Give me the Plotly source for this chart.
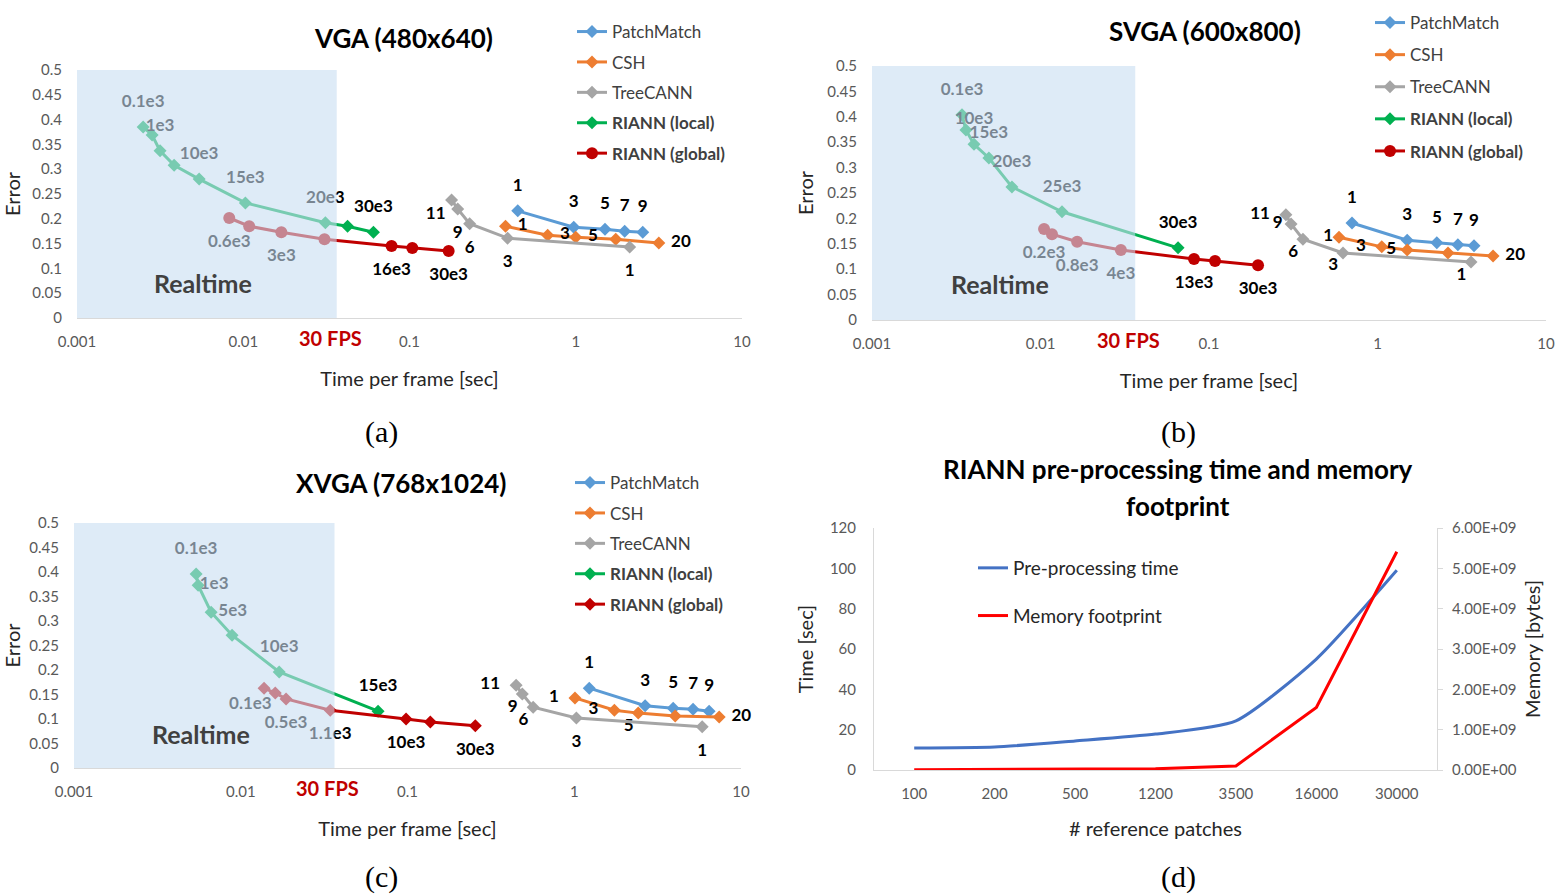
import math
import plotly.graph_objects as go

# ---------------- data ----------------
# (a) VGA (480x640): time per frame [sec] vs error
vga_pm_t = [0.448, 0.973, 1.50, 1.97, 2.53]
vga_pm_err = [0.216, 0.183, 0.179, 0.175, 0.173]
vga_pm_lbl = ["1", "3", "5", "7", "9"]
vga_csh_t = [0.378, 0.678, 1.0, 1.74, 3.16]
vga_csh_err = [0.185, 0.167, 0.163, 0.159, 0.151]
vga_csh_lbl = ["1", "3", "5", "", "20"]
vga_tree_t = [0.179, 0.195, 0.23, 0.389, 2.11]
vga_tree_err = [0.238, 0.220, 0.190, 0.161, 0.143]
vga_tree_lbl = ["11", "9", "6", "3", "1"]
vga_local_t = [0.0025, 0.00283, 0.00316, 0.00384, 0.00543, 0.0103, 0.0312, 0.0424, 0.0607]
vga_local_err = [0.385, 0.369, 0.337, 0.308, 0.280, 0.232, 0.192, 0.185, 0.173]
vga_local_lbl = ["0.1e3", "", "1e3", "", "10e3", "15e3", "20e3", "", "30e3"]
vga_global_t = [0.00824, 0.01086, 0.01695, 0.0308, 0.078, 0.104, 0.172]
vga_global_err = [0.2016, 0.185, 0.173, 0.159, 0.145, 0.141, 0.135]
vga_global_lbl = ["0.6e3", "", "3e3", "", "16e3", "", "30e3"]

# (b) SVGA (600x800)
svga_pm_t = [0.706, 1.50, 2.25, 3.0, 3.74]
svga_pm_err = [0.191, 0.157, 0.152, 0.148, 0.146]
svga_pm_lbl = ["1", "3", "5", "7", "9"]
svga_csh_t = [0.591, 1.06, 1.50, 2.62, 4.85]
svga_csh_err = [0.163, 0.144, 0.138, 0.132, 0.126]
svga_csh_lbl = ["1", "3", "5", "", "20"]
svga_tree_t = [0.286, 0.307, 0.361, 0.624, 3.59]
svga_tree_err = [0.207, 0.189, 0.159, 0.132, 0.114]
svga_tree_lbl = ["11", "9", "6", "3", "1"]
svga_local_t = [0.00342, 0.00361, 0.00403, 0.00494, 0.00677, 0.01342, 0.0655]
svga_local_err = [0.404, 0.374, 0.346, 0.319, 0.262, 0.213, 0.142]
svga_local_lbl = ["0.1e3", "", "10e3", "15e3", "20e3", "25e3", "30e3"]
svga_global_t = [0.0105, 0.0117, 0.0165, 0.0300, 0.0815, 0.1086, 0.1954]
svga_global_err = [0.179, 0.169, 0.154, 0.138, 0.120, 0.116, 0.108]
svga_global_lbl = ["0.2e3", "", "0.8e3", "4e3", "13e3", "", "30e3"]

# (c) XVGA (768x1024)
xvga_pm_t = [1.23, 2.66, 3.92, 5.16, 6.44]
xvga_pm_err = [0.163, 0.127, 0.122, 0.120, 0.116]
xvga_pm_lbl = ["1", "3", "5", "7", "9"]
xvga_csh_t = [1.01, 1.74, 2.42, 4.03, 7.40]
xvga_csh_err = [0.143, 0.118, 0.112, 0.106, 0.104]
xvga_csh_lbl = ["1", "3", "5", "", "20"]
xvga_tree_t = [0.448, 0.488, 0.567, 1.03, 5.85]
xvga_tree_err = [0.169, 0.151, 0.124, 0.102, 0.084]
xvga_tree_lbl = ["11", "9", "6", "3", "1"]
xvga_local_t = [0.0054, 0.00555, 0.00664, 0.00887, 0.0170, 0.0666]
xvga_local_err = [0.396, 0.373, 0.318, 0.271, 0.196, 0.116]
xvga_local_lbl = ["0.1e3", "1e3", "5e3", "", "10e3", "15e3"]
xvga_global_t = [0.0138, 0.0161, 0.0187, 0.0344, 0.098, 0.137, 0.255]
xvga_global_err = [0.163, 0.153, 0.141, 0.118, 0.100, 0.094, 0.086]
xvga_global_lbl = ["", "0.1e3", "0.5e3", "1.1e3", "10e3", "", "30e3"]

# (d) RIANN pre-processing time and memory footprint
ref_patches = ["100", "200", "500", "1200", "3500", "16000", "30000"]
preproc_time = [10.9, 11.4, 14.4, 17.8, 24.4, 55.0, 99.0]
memory_bytes = [0.005e9, 0.008e9, 0.015e9, 0.03e9, 0.1e9, 1.55e9, 5.41e9]

time_ticks = [0.001, 0.01, 0.1, 1, 10]
time_ticktext = ["0.001", "0.01", "0.1", "1", "10"]
err_ticks = [0, 0.05, 0.1, 0.15, 0.2, 0.25, 0.3, 0.35, 0.4, 0.45, 0.5]
err_ticktext = ["0", "0.05", "0.1", "0.15", "0.2", "0.25", "0.3", "0.35", "0.4", "0.45", "0.5"]
mem_ticks = [0, 1e9, 2e9, 3e9, 4e9, 5e9, 6e9]
mem_ticktext = ["0.00E+00", "1.00E+09", "2.00E+09", "3.00E+09", "4.00E+09", "5.00E+09", "6.00E+09"]
fps30 = 1 / 30
realtime_band = [0.001, 0.0365]   # shaded "Realtime" region as drawn

# ---------------- style ----------------
FONT = "Lato"
GREY = "#595959"
AXIS_LINE = "#d9d9d9"
TC, BC, ML, MR, BL = "top center", "bottom center", "middle left", "middle right", "bottom left"

methods = {
    "pm": ("PatchMatch", "#5b9bd5"),
    "csh": ("CSH", "#ed7d31"),
    "tree": ("TreeCANN", "#a5a5a5"),
    "local": ("<b>RIANN (local)</b>", "#00b050"),
    "global": ("<b>RIANN (global)</b>", "#c00000"),
}

fig = go.Figure()


def add_method(key, t, err, labels, pos, xa, ya, legend, symbol="diamond", size=10, gap=24):
    name, color = methods[key]
    fig.add_trace(go.Scatter(
        x=t, y=err, mode="lines+markers", name=name,
        line=dict(color=color, width=3),
        marker=dict(symbol=symbol, size=size, color=color),
        xaxis=xa, yaxis=ya, legend=legend, legendgroup=legend + key,
        hoverinfo="skip"))
    # data labels; the invisible marker only sets how far the label sits from the point
    fig.add_trace(go.Scatter(
        x=t, y=err, mode="markers+text", text=labels, textposition=pos,
        marker=dict(size=gap, color="rgba(0,0,0,0)", opacity=0,
                    line=dict(width=0, color="rgba(0,0,0,0)")),
        cliponaxis=False,
        textfont=dict(family=FONT, size=17, color="black", weight="bold"),
        xaxis=xa, yaxis=ya, showlegend=False, hoverinfo="skip"))


# (a)
add_method("pm", vga_pm_t, vga_pm_err, vga_pm_lbl, TC, "x", "y", "legend")
add_method("csh", vga_csh_t, vga_csh_err, vga_csh_lbl, MR, "x", "y", "legend", gap=18)
add_method("tree", vga_tree_t, vga_tree_err, vga_tree_lbl, [BL, BC, BC, BC, BC], "x", "y", "legend",
           gap=[8, 24, 24, 24, 24])
add_method("local", vga_local_t, vga_local_err, vga_local_lbl, TC, "x", "y", "legend")
add_method("global", vga_global_t, vga_global_err, vga_global_lbl, BC, "x", "y", "legend",
           symbol="circle", size=12)

# (b)
add_method("pm", svga_pm_t, svga_pm_err, svga_pm_lbl, TC, "x2", "y2", "legend2")
add_method("csh", svga_csh_t, svga_csh_err, svga_csh_lbl, [ML, ML, ML, ML, MR], "x2", "y2", "legend2",
           gap=[8, 24, 16, 24, 18])
add_method("tree", svga_tree_t, svga_tree_err, svga_tree_lbl, [ML, ML, BL, BL, BL], "x2", "y2", "legend2",
           gap=[24, 12, 6, 6, 6])
add_method("local", svga_local_t, svga_local_err, svga_local_lbl, TC, "x2", "y2", "legend2")
add_method("global", svga_global_t, svga_global_err, svga_global_lbl, BC, "x2", "y2", "legend2",
           symbol="circle", size=12)

# (c)
add_method("pm", xvga_pm_t, xvga_pm_err, xvga_pm_lbl, TC, "x3", "y3", "legend3")
add_method("csh", xvga_csh_t, xvga_csh_err, xvga_csh_lbl, [ML, ML, BL, ML, MR], "x3", "y3", "legend3",
           gap=[24, 24, 6, 24, 18])
add_method("tree", xvga_tree_t, xvga_tree_err, xvga_tree_lbl, [ML, BL, BL, BC, BC], "x3", "y3", "legend3",
           gap=[24, 6, 6, 24, 24])
add_method("local", xvga_local_t, xvga_local_err, xvga_local_lbl, [TC, MR, MR, TC, TC, TC], "x3", "y3",
           "legend3", gap=[24, 1, 10, 24, 24, 24])
add_method("global", xvga_global_t, xvga_global_err, xvga_global_lbl, [BC, BL, BC, BC, BC, BC, BC],
           "x3", "y3", "legend3", gap=[24, 4, 24, 24, 24, 24, 24])

# (d)
fig.add_trace(go.Scatter(
    x=ref_patches, y=preproc_time, mode="lines", name="Pre-processing time",
    line=dict(color="#4472c4", width=3, shape="spline", smoothing=0.6),
    xaxis="x4", yaxis="y4", legend="legend4", legendgroup="d1", hoverinfo="skip"))
fig.add_trace(go.Scatter(
    x=ref_patches, y=memory_bytes, mode="lines", name="Memory footprint",
    line=dict(color="#ff0000", width=3),
    xaxis="x4", yaxis="y5", legend="legend4", legendgroup="d2", hoverinfo="skip"))

tick_font = dict(family=FONT, size=15, color=GREY)
title_font = dict(family=FONT, size=20, color="#262626")


def px_x(p):
    return p / 1561


def px_y(p):
    return 1 - p / 894


def error_axes(sfx, x0, x1, y_top, y_bot):
    fig.update_layout(**{
        "xaxis" + sfx: dict(
            domain=[px_x(x0), px_x(x1)], anchor="y" + sfx, type="log", range=[-3, 1],
            tickvals=time_ticks, ticktext=time_ticktext, showgrid=False, zeroline=False,
            showline=True, linecolor=AXIS_LINE, ticks="", tickfont=tick_font,
            ticklabelstandoff=10,
            title=dict(text="Time per frame [sec]", font=title_font, standoff=22)),
        "yaxis" + sfx: dict(
            domain=[px_y(y_bot), px_y(y_top)], anchor="x" + sfx, range=[0, 0.5],
            tickvals=err_ticks, ticktext=err_ticktext, showgrid=False, zeroline=False,
            showline=False, ticks="", tickfont=tick_font, ticklabelstandoff=14,
            title=dict(text="Error", font=title_font, standoff=8)),
    })
    fig.add_shape(type="rect", xref="x" + sfx, yref="y" + sfx,
                  x0=realtime_band[0], x1=realtime_band[1], y0=0, y1=0.5,
                  fillcolor="rgb(200,222,242)", opacity=0.6, line_width=0, layer="above")
    fig.add_annotation(xref="x" + sfx, yref="y" + sfx + " domain",
                       x=math.log10(fps30), y=0, yshift=-20, showarrow=False,
                       xanchor="center", yanchor="middle",
                       text="<b>30 FPS</b>", font=dict(family=FONT, size=20, color="#c00000"))
    fig.add_annotation(xref="x" + sfx + " domain", yref="y" + sfx + " domain",
                       x=0.19, y=0.14, showarrow=False, xanchor="center", yanchor="middle",
                       text="<b>Realtime</b>", font=dict(family=FONT, size=25, color="#404040"))


error_axes("", 77, 742, 70, 318)
error_axes("2", 872, 1546, 66, 320)
error_axes("3", 74, 741, 523, 768)

fig.update_layout(
    xaxis4=dict(domain=[px_x(874), px_x(1437)], anchor="y4", type="category",
                categoryorder="array", categoryarray=ref_patches, range=[-0.5, 6.5],
                showgrid=False, zeroline=False, showline=True, linecolor=AXIS_LINE,
                ticks="", tickfont=tick_font, ticklabelstandoff=10,
                title=dict(text="# reference patches", font=title_font, standoff=20)),
    yaxis4=dict(domain=[px_y(770), px_y(528)], anchor="x4", range=[0, 120], dtick=20,
                showgrid=False, zeroline=False, showline=True, linecolor=AXIS_LINE,
                ticks="", tickfont=tick_font, ticklabelstandoff=14,
                title=dict(text="Time [sec]", font=title_font, standoff=10)),
    yaxis5=dict(overlaying="y4", anchor="x4", side="right", range=[0, 6e9],
                tickvals=mem_ticks, ticktext=mem_ticktext, showgrid=False, zeroline=False,
                showline=True, linecolor=AXIS_LINE, ticks="outside", ticklen=5,
                tickcolor=AXIS_LINE, tickfont=tick_font, ticklabelstandoff=6,
                title=dict(text="Memory [bytes]", font=title_font, standoff=10)),
)

legend_font = dict(family=FONT, size=17, color="#404040")
for key, lx, ly, gap in [("legend", 572, 14, 5.3), ("legend2", 1370, 5, 7), ("legend3", 570, 465, 5.3)]:
    fig.update_layout(**{key: dict(x=px_x(lx), y=px_y(ly), xanchor="left", yanchor="top",
                                   font=legend_font, tracegroupgap=gap, bgcolor="rgba(0,0,0,0)",
                                   traceorder="grouped")})
fig.update_layout(legend4=dict(x=px_x(973), y=px_y(549), xanchor="left", yanchor="top",
                               font=dict(family=FONT, size=19, color="#262626"),
                               tracegroupgap=20, bgcolor="rgba(0,0,0,0)", traceorder="grouped"))

# panel titles and captions
head_font = dict(family=FONT, size=26, color="black")
for txt, cx, cy in [("VGA (480x640)", 403, 38), ("SVGA (600x800)", 1205, 31),
                    ("XVGA (768x1024)", 401, 483),
                    ("RIANN pre-processing time and memory", 1178, 469), ("footprint", 1178, 506)]:
    fig.add_annotation(xref="paper", yref="paper", x=px_x(cx), y=px_y(cy), showarrow=False,
                       xanchor="center", yanchor="middle",
                       text="<b>" + txt + "</b>", font=head_font)
for txt, cx, cy in [("(a)", 381, 432), ("(b)", 1178, 432), ("(c)", 381, 877), ("(d)", 1178, 877)]:
    fig.add_annotation(xref="paper", yref="paper", x=px_x(cx), y=px_y(cy), showarrow=False,
                       xanchor="center", yanchor="middle",
                       text=txt, font=dict(family="Liberation Serif", size=30, color="black"))

fig.update_layout(width=1561, height=894, margin=dict(l=0, r=0, t=0, b=0),
                  paper_bgcolor="white", plot_bgcolor="white", template="none",
                  font=dict(family=FONT, color="#404040"))

# the page's default 8px body margin would push the figure off its 1561x894 window
fig.write_html("out.html", config={"displayModeBar": False},
               post_script="document.body.style.margin = '0';")
